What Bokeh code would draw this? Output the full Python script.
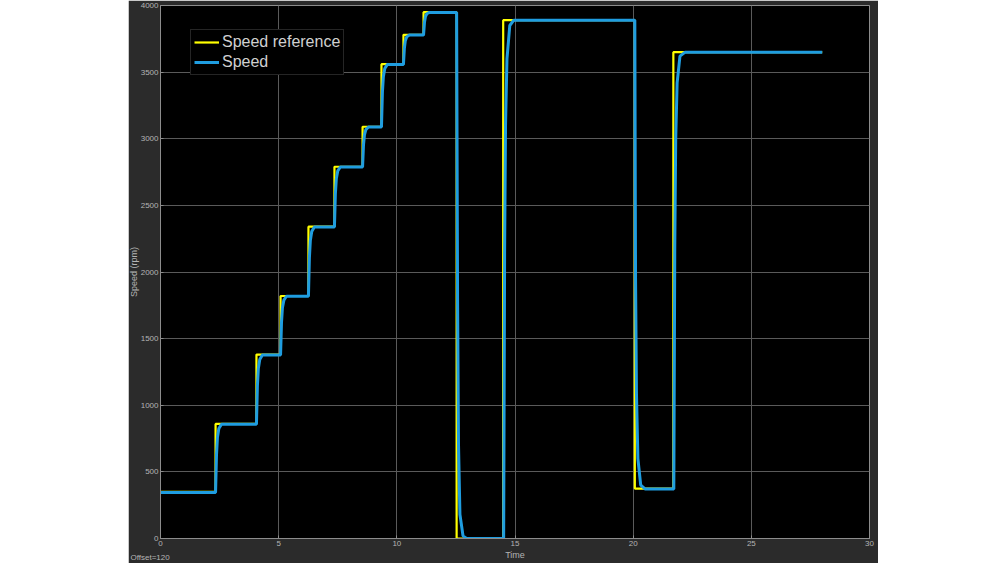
from bokeh.plotting import figure
from bokeh.models import Legend, LegendItem, FixedTicker, Title
from bokeh.embed import file_html
from bokeh.resources import INLINE

# Reference (step changes): time at which each level starts, and level (rpm)
ref_t = [0, 2.33, 4.06, 5.08, 6.26, 7.36, 8.55, 9.35, 10.28, 11.13, 12.53, 14.5, 20.07, 21.7, 28.0]
ref_v = [350, 860, 1380, 1820, 2340, 2790, 3090, 3560, 3780, 3950, 0, 3890, 375, 3650, 3650]

spd_t = [0, 2.33, 2.37, 2.41, 2.47, 2.58,
         4.06, 4.10, 4.14, 4.20, 4.31,
         5.08, 5.12, 5.16, 5.22, 5.33,
         6.26, 6.30, 6.34, 6.40, 6.51,
         7.36, 7.40, 7.44, 7.50, 7.61,
         8.55, 8.59, 8.63, 8.69, 8.80,
         9.35, 9.39, 9.43, 9.49, 9.60,
         10.28, 10.32, 10.36, 10.42, 10.53,
         11.13, 11.17, 11.21, 11.27, 11.38,
         12.53, 12.57, 12.61, 12.67, 12.80, 12.95,
         14.52, 14.56, 14.60, 14.66, 14.78, 14.95,
         20.07, 20.10, 20.14, 20.20, 20.32, 20.5,
         21.72, 21.76, 21.80, 21.86, 21.98, 22.2, 28.0]
spd_v = [345, 345, 630, 760, 825, 858,
         858, 1146, 1276, 1344, 1378,
         1378, 1622, 1732, 1789, 1818,
         1818, 2106, 2236, 2304, 2338,
         2338, 2588, 2700, 2759, 2788,
         2788, 2955, 3030, 3069, 3088,
         3088, 3349, 3466, 3527, 3558,
         3558, 3681, 3736, 3765, 3778,
         3778, 3874, 3916, 3938, 3948,
         3948, 1780, 700, 180, 20, 0,
         0, 2140, 3110, 3600, 3850, 3890,
         3890, 1960, 1080, 600, 400, 372,
         372, 2175, 2995, 3420, 3620, 3650, 3650]

x_ticks = [0, 5, 10, 15, 20, 25, 30]
y_ticks = [0, 500, 1000, 1500, 2000, 2500, 3000, 3500, 4000]

FONT = "Liberation Sans"
GRAY_TXT = "#b4b4b4"

p = figure(width=750, height=563, output_backend="svg", toolbar_location=None,
           x_range=(0, 30), y_range=(0, 4000),
           min_border_left=32, min_border_right=9, min_border_top=5, min_border_bottom=25)
p.margin = (0, 0, 0, 128)
p.background_fill_color = "#000000"
p.border_fill_color = "#2b2b2b"
p.outline_line_color = "#8c8c8c"
p.outline_line_width = 1

for ax in (p.xaxis[0], p.yaxis[0]):
    ax.axis_line_color = "#8c8c8c"
    ax.major_tick_line_color = "#8c8c8c"
    ax.major_tick_out = 0
    ax.major_tick_in = 3
    ax.minor_tick_line_color = None
    ax.major_label_text_font = FONT
    ax.major_label_text_font_size = "8px"
    ax.major_label_text_color = GRAY_TXT
    ax.axis_label_text_font = FONT
    ax.axis_label_text_font_size = "9px"
    ax.axis_label_text_font_style = "normal"
    ax.axis_label_text_color = GRAY_TXT
    ax.major_label_standoff = 2

p.xaxis.ticker = FixedTicker(ticks=x_ticks)
p.yaxis.ticker = FixedTicker(ticks=y_ticks)
p.xaxis.axis_label = "Time"
p.xaxis.axis_label_standoff = 1

p.grid.grid_line_color = "#5a5a5a"
p.grid.grid_line_width = 1
p.xgrid.ticker = FixedTicker(ticks=x_ticks)
p.ygrid.ticker = FixedTicker(ticks=y_ticks)

r_ref = p.step(ref_t, ref_v, mode="after", line_color="#ffff00", line_width=2.2)
r_spd = p.line(spd_t, spd_v, line_color="#1f9de0", line_width=3)

legend = Legend(items=[LegendItem(label="Speed reference", renderers=[r_ref]),
                       LegendItem(label="Speed", renderers=[r_spd])],
                location=(30, 463))
legend.background_fill_color = "#000000"
legend.background_fill_alpha = 1
legend.border_line_color = "#4a4a4a"
legend.label_text_font = FONT
legend.label_text_font_size = "16px"
legend.label_text_color = "#d0d0d0"
legend.glyph_width = 25
legend.glyph_height = 18
legend.label_height = 18
legend.label_standoff = 3
legend.spacing = 2
legend.padding = 3
legend.margin = 0
p.add_layout(legend)

# y-axis title (rotated side title)
p.add_layout(Title(text="Speed (rpm)", align="center", standoff=-3, text_font=FONT,
                   text_font_size="9px", text_font_style="normal", text_color=GRAY_TXT), "left")
# offset note in the bottom strip
p.add_layout(Title(text="Offset=120", align="left", vertical_align="top", offset=-30, standoff=-20,
                   text_font=FONT, text_font_size="8px", text_font_style="normal",
                   text_color=GRAY_TXT), "below")

open("out.html", "w").write(file_html(p, INLINE))
